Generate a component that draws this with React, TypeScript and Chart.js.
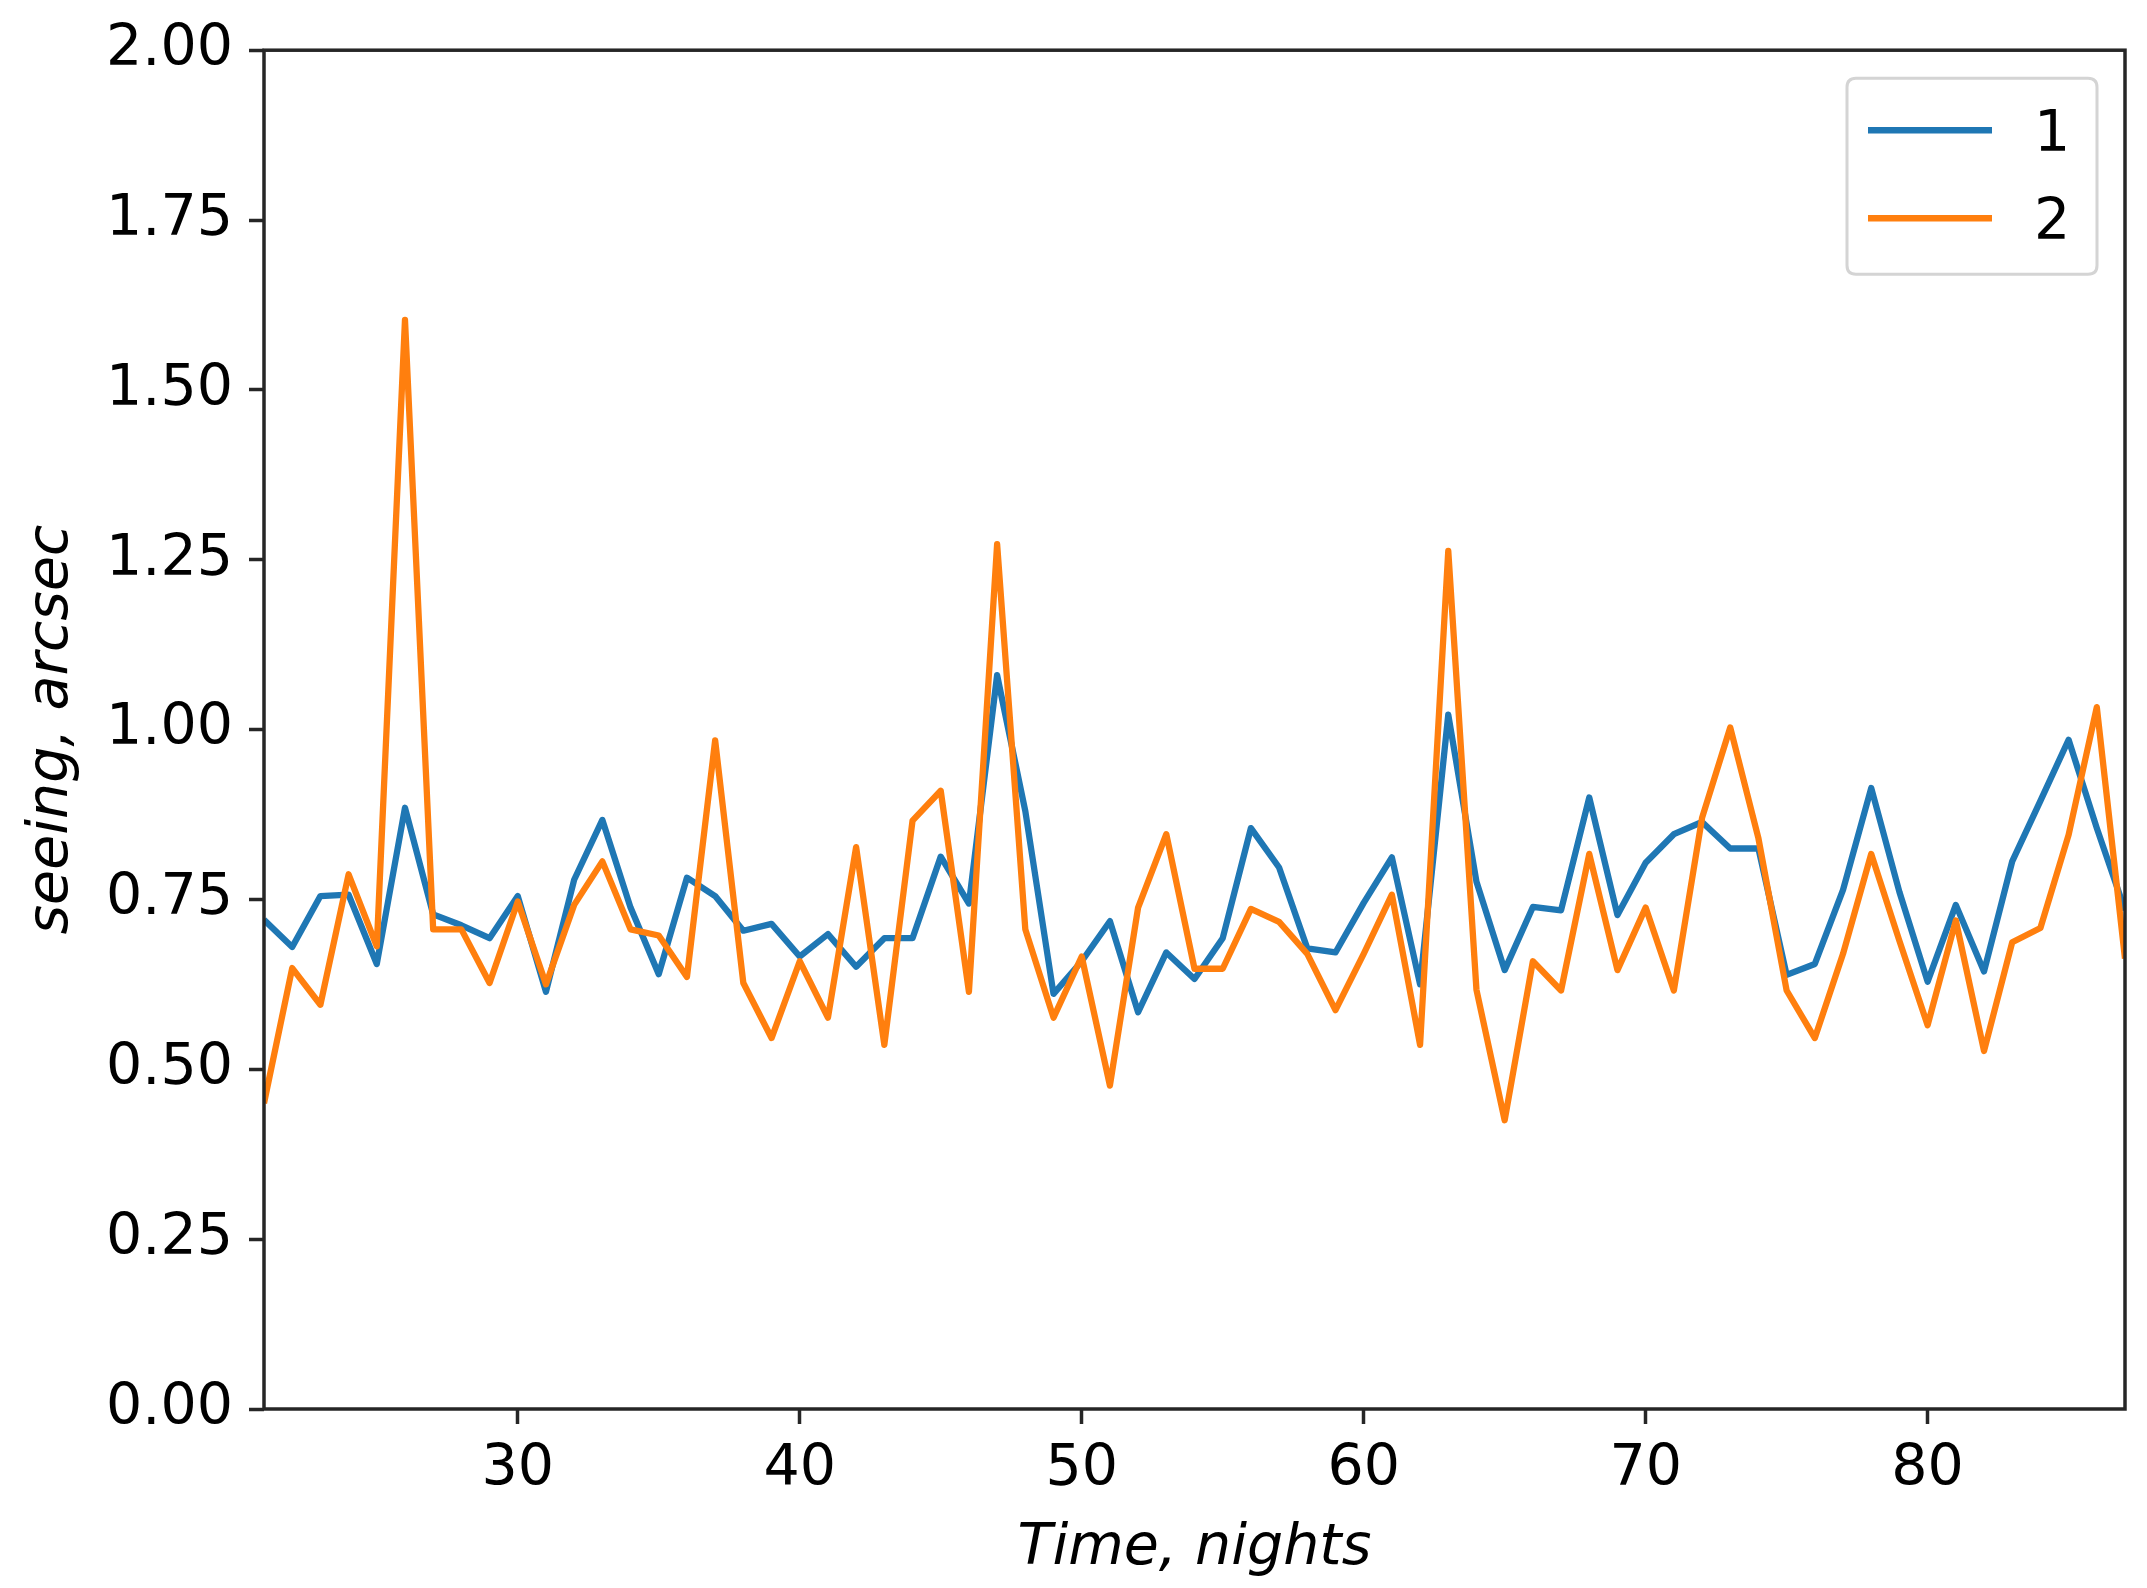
import React, { useEffect, useRef } from "react";
import { Chart, registerables } from "chart.js";

Chart.register(...registerables);

const nights = [
  21, 22, 23, 24, 25, 26, 27, 28, 29, 30,
  31, 32, 33, 34, 35, 36, 37, 38, 39, 40,
  41, 42, 43, 44, 45, 46, 47, 48, 49, 50,
  51, 52, 53, 54, 55, 56, 57, 58, 59, 60,
  61, 62, 63, 64, 65, 66, 67, 68, 69, 70,
  71, 72, 73, 74, 75, 76, 77, 78, 79, 80,
  81, 82, 83, 84, 85, 86, 87,
];

const series1 = [
  0.72, 0.68, 0.755, 0.757, 0.655, 0.885, 0.728, 0.712, 0.693, 0.755,
  0.614, 0.779, 0.867, 0.738, 0.64, 0.782, 0.755, 0.704, 0.714, 0.666,
  0.699, 0.651, 0.693, 0.693, 0.813, 0.744, 1.08, 0.88, 0.611, 0.659,
  0.718, 0.584, 0.672, 0.633, 0.693, 0.855, 0.797, 0.678, 0.672, 0.745,
  0.812, 0.625, 1.022, 0.776, 0.646, 0.739, 0.734, 0.9, 0.727, 0.804,
  0.846, 0.864, 0.825, 0.825, 0.639, 0.655, 0.764, 0.914, 0.761, 0.629,
  0.742, 0.644, 0.806, 0.895, 0.985, 0.855, 0.734,
];

const series2 = [
  0.45, 0.649, 0.595, 0.787, 0.681, 1.603, 0.706, 0.706, 0.627, 0.747,
  0.625, 0.742, 0.806, 0.706, 0.697, 0.636, 0.984, 0.627, 0.546, 0.659,
  0.576, 0.827, 0.536, 0.866, 0.91, 0.614, 1.273, 0.706, 0.576, 0.666,
  0.476, 0.738, 0.846, 0.648, 0.648, 0.736, 0.717, 0.67, 0.587, 0.67,
  0.757, 0.536, 1.263, 0.617, 0.425, 0.659, 0.616, 0.817, 0.646, 0.738,
  0.616, 0.87, 1.003, 0.84, 0.616, 0.546, 0.67, 0.817, 0.689, 0.565,
  0.719, 0.527, 0.687, 0.708, 0.845, 1.033, 0.663,
];

const seriesLabels = ["1", "2"];
const seriesColors = ["#1f77b4", "#ff7f0e"];
const xTickValues = [30, 40, 50, 60, 70, 80];
const xMin = 21;
const xMax = 87;
const yMin = 0;
const yMax = 2;
const yStep = 0.25;
const xTitle = "Time, nights";
const yTitle = "seeing, arcsec";

const FONT = "'DejaVu Sans', 'Liberation Sans', sans-serif";
const FONT_SIZE = 57;
const SPINE = "#262626";

const framePlugin = {
  id: "frameAndLegend",
  afterDraw(chart: any) {
    const { ctx, chartArea } = chart;
    const { left, right, top, bottom } = chartArea;
    ctx.save();
    // spines
    ctx.strokeStyle = SPINE;
    ctx.lineWidth = 3.5;
    ctx.strokeRect(left, top, right - left, bottom - top);

    // legend (matplotlib style)
    const bw = 250;
    const bh = 196;
    const bx = right - 28 - bw;
    const by = top + 28;
    const r = 9;
    ctx.beginPath();
    ctx.moveTo(bx + r, by);
    ctx.lineTo(bx + bw - r, by);
    ctx.quadraticCurveTo(bx + bw, by, bx + bw, by + r);
    ctx.lineTo(bx + bw, by + bh - r);
    ctx.quadraticCurveTo(bx + bw, by + bh, bx + bw - r, by + bh);
    ctx.lineTo(bx + r, by + bh);
    ctx.quadraticCurveTo(bx, by + bh, bx, by + bh - r);
    ctx.lineTo(bx, by + r);
    ctx.quadraticCurveTo(bx, by, bx + r, by);
    ctx.closePath();
    ctx.fillStyle = "rgba(255,255,255,0.8)";
    ctx.fill();
    ctx.strokeStyle = "#d4d4d4";
    ctx.lineWidth = 3;
    ctx.stroke();

    ctx.font = `${FONT_SIZE}px ${FONT}`;
    ctx.textAlign = "left";
    ctx.textBaseline = "alphabetic";
    chart.data.datasets.forEach((ds: any, i: number) => {
      const ly = by + 52 + i * 88;
      ctx.strokeStyle = ds.borderColor;
      ctx.lineWidth = 6.5;
      ctx.lineCap = "butt";
      ctx.beginPath();
      ctx.moveTo(bx + 21, ly);
      ctx.lineTo(bx + 145, ly);
      ctx.stroke();
      ctx.fillStyle = "#000";
      ctx.fillText(ds.label, bx + 187, ly + 21);
    });
    ctx.restore();
  },
};

export default function App() {
  const canvasRef = useRef<HTMLCanvasElement | null>(null);

  useEffect(() => {
    document.body.style.margin = "0";
    const canvas = canvasRef.current;
    if (!canvas) return;

    const datasets = [series1, series2].map((vals, i) => ({
      label: seriesLabels[i],
      data: nights.map((n, j) => ({ x: n, y: vals[j] })),
      borderColor: seriesColors[i],
      backgroundColor: seriesColors[i],
      borderWidth: 6.3,
      pointRadius: 0,
      tension: 0,
      fill: false,
      order: i === 0 ? 1 : 0,
      borderJoinStyle: "round" as const,
      borderCapStyle: "butt" as const,
    }));

    const chart = new Chart(canvas, {
      type: "line",
      data: { datasets },
      plugins: [framePlugin],
      options: {
        animation: false,
        responsive: false,
        devicePixelRatio: 1,
        layout: { padding: { top: 48, right: 22, left: 0, bottom: 0 } },
        plugins: {
          legend: { display: false },
          tooltip: { enabled: false },
        },
        scales: {
          x: {
            type: "linear",
            min: xMin,
            max: xMax,
            afterBuildTicks: (scale: any) => {
              scale.ticks = xTickValues.map((v) => ({ value: v }));
            },
            afterFit: (scale: any) => {
              scale.height = 179;
            },
            ticks: {
              color: "#000",
              padding: 12,
              maxRotation: 0,
              autoSkip: false,
              font: { family: FONT, size: FONT_SIZE },
              callback: (v: any) => String(v),
            },
            grid: {
              display: true,
              drawOnChartArea: false,
              drawTicks: true,
              tickLength: 15,
              tickWidth: 3.5,
              tickColor: SPINE,
            },
            border: { display: false },
            title: {
              display: true,
              text: xTitle,
              color: "#000",
              font: { family: FONT, size: FONT_SIZE, style: "italic" },
              padding: { top: 0, bottom: 5 },
            },
          },
          y: {
            type: "linear",
            min: yMin,
            max: yMax,
            afterFit: (scale: any) => {
              scale.width = 264;
            },
            ticks: {
              stepSize: yStep,
              color: "#000",
              padding: 16,
              font: { family: FONT, size: FONT_SIZE },
              callback: (v: any) => Number(v).toFixed(2),
            },
            grid: {
              display: true,
              drawOnChartArea: false,
              drawTicks: true,
              tickLength: 15,
              tickWidth: 3.5,
              tickColor: SPINE,
            },
            border: { display: false },
            title: {
              display: true,
              text: yTitle,
              color: "#000",
              font: { family: FONT, size: FONT_SIZE, style: "italic" },
              padding: { top: 18, bottom: 0 },
            },
          },
        },
      },
    });

    return () => {
      chart.destroy();
    };
  }, []);

  return (
    <div style={{ width: 2147, height: 1588, background: "#fff" }}>
      <canvas
        ref={canvasRef}
        width={2147}
        height={1588}
        style={{ display: "block", width: 2147, height: 1588 }}
      />
    </div>
  );
}
